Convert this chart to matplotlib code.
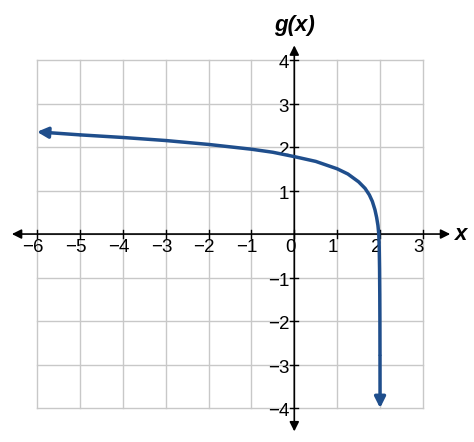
import matplotlib.pyplot as plt
import numpy as np

curve_x = [-6, -5, -4, -3, -2, -1, -0.5, 0, 0.5, 1, 1.25, 1.5, 1.65, 1.75, 1.82, 1.88, 1.92, 1.95, 1.97, 1.98, 1.988, 1.993, 1.996, 1.998, 2.0]
curve_y = [2.35, 2.28, 2.22, 2.15, 2.06, 1.95, 1.88, 1.78, 1.67, 1.5, 1.38, 1.2, 1.05, 0.9, 0.75, 0.56, 0.38, 0.2, 0.0, -0.3, -0.8, -1.4, -2.0, -2.8, -4.0]
x_ticks = [-6, -5, -4, -3, -2, -1, 0, 1, 2, 3]
y_ticks = [-4, -3, -2, -1, 1, 2, 3, 4]

plt.rcParams['font.family'] = ['Liberation Sans', 'DejaVu Sans']
fig = plt.figure(figsize=(4.74, 4.42), dpi=100)
ax = fig.add_axes([0, 0, 1, 1])
ax.set_xlim(-6.862, 4.19)
ax.set_ylim(-4.78, 5.38)
ax.axis('off')

gc = '#c8c8c8'
for gx in range(-6, 4):
    ax.plot([gx, gx], [-4, 4], color=gc, lw=1, zorder=1)
for gy in range(-4, 5):
    ax.plot([-6, 3], [gy, gy], color=gc, lw=1, zorder=1)

ak = dict(arrowstyle='<|-|>', color='black', lw=1.2, mutation_scale=14)
ax.annotate('', xy=(-6.65, 0), xytext=(3.7, 0), arrowprops=ak, zorder=2)
ax.annotate('', xy=(0, -4.6), xytext=(0, 4.4), arrowprops=ak, zorder=2)
for t in x_ticks:
    ax.plot([t, t], [-0.09, 0.09], color='black', lw=1, zorder=2)
    ax.text(t - 0.1, -0.12, str(t) if t >= 0 else '\u2212' + str(-t), ha='center', va='top', fontsize=13.5, zorder=3)
for t in y_ticks:
    ax.plot([-0.09, 0.09], [t, t], color='black', lw=1, zorder=2)
    ax.text(-0.12, t - 0.08, str(t) if t >= 0 else '\u2212' + str(-t), ha='right', va='center', fontsize=13.5, zorder=3)
ax.text(3.75, 0, 'x', fontsize=16, fontstyle='italic', fontweight='bold', va='center', ha='left')
ax.text(0, 4.55, 'g(x)', fontsize=16, fontstyle='italic', fontweight='bold', va='bottom', ha='center')

col = '#1f4e8c'
ax.plot(curve_x[1:-1], curve_y[1:-1], color=col, lw=2.5, zorder=4, solid_capstyle='butt')
ak2 = dict(arrowstyle='-|>', color=col, lw=2.5, mutation_scale=16, shrinkA=0, shrinkB=0)
ax.annotate('', xy=(curve_x[0], curve_y[0]), xytext=(curve_x[1], curve_y[1]), arrowprops=ak2, zorder=4)
ax.annotate('', xy=(curve_x[-1], curve_y[-1]), xytext=(curve_x[-2], curve_y[-2]), arrowprops=ak2, zorder=4)

fig.savefig('out.png', dpi=100)
